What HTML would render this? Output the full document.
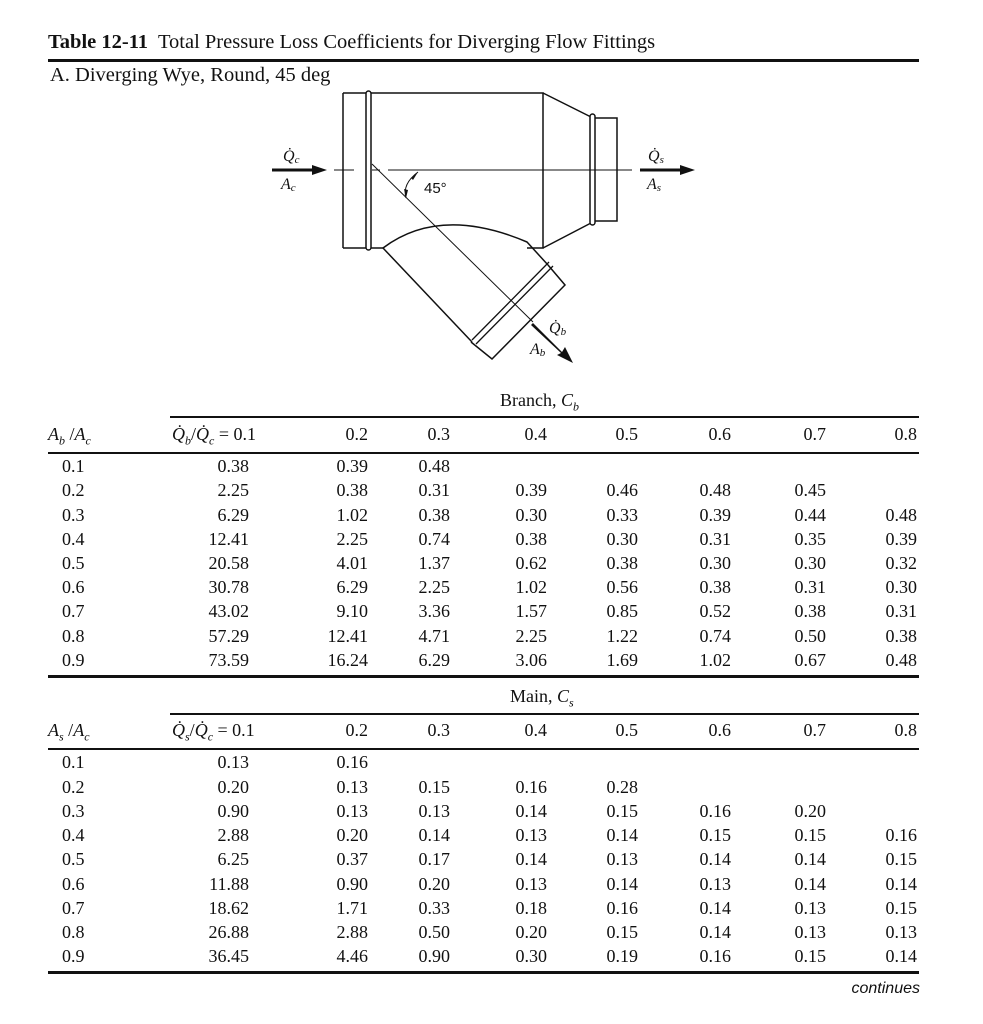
<!DOCTYPE html>
<html><head><meta charset="utf-8"><style>
body{margin:0;background:#fff;}
#p{position:relative;width:983px;height:1024px;overflow:hidden;font-family:"Liberation Serif",serif;color:#111;}
.a{position:absolute;white-space:nowrap;}
.r{position:absolute;left:0;width:983px;height:20px;line-height:20px;font-size:18px;}
.r span{position:absolute;}
.c0{left:62px}
.c1{right:734px}.c2{right:615px}.c3{right:533px}.c4{right:436px}.c5{right:345px}.c6{right:252px}.c7{right:157px}.c8{right:66px}
.ln{position:absolute;background:#111;}
i{font-style:italic}
</style></head><body><div id="p">
<div class="a" style="left:48px;top:31px;font-size:20.5px;"><b>Table 12-11</b>&nbsp; Total Pressure Loss Coefficients for Diverging Flow Fittings</div>
<div class="ln" style="left:48px;top:59px;width:871px;height:3px"></div>
<div class="a" style="left:50px;top:64px;font-size:20.5px;">A. Diverging Wye, Round, 45 deg</div>

<svg class="a" style="left:0;top:0" width="983" height="400" viewBox="0 0 983 400">
<g fill="none" stroke="#111" stroke-width="1.5">
<path d="M343,93 H543 V248 H527 M383,248 H343 Z"/>
<path d="M343,93 V248"/>
<rect x="366" y="91" width="5" height="159" rx="2.5" fill="#fff"/>
<path d="M543,93 L591,117 M543,248 L591,223"/>
<rect x="594" y="118" width="23" height="103"/>
<rect x="590" y="114" width="5" height="111" rx="2.5" fill="#fff"/>
<path d="M383,248 Q440,205 527,242 L548,265"/>
<path d="M383,248 L472,342"/>
<path d="M548,265 L565,285 L492,359 L471,342"/>
<path d="M549,262 L472,340 M553,266 L476,344" stroke-width="1.3"/>
<path d="M334,170 H354 M372,170 H380 M388,170 H632" stroke-width="1"/>
<path d="M372,164 L533,322" stroke-width="1"/>
<path d="M418,172 Q402,184 406,198" stroke-width="1"/>
</g>
<g fill="#111">
<path d="M272,168.5 H312 V165 L327,170 L312,175 V171.5 H272 Z"/>
<path d="M640,168.5 H680 V165 L695,170 L680,175 V171.5 H640 Z"/>
<path d="M533,323 L562,352 L565,347 L573,363 L557,355 L561,353 L531,325 Z"/>
<path d="M418,172 L413,180 L411,178 Z M406,198 L404,189 L408,190 Z"/>
</g>
<g font-family="Liberation Serif,serif" font-style="italic" font-size="16" fill="#111">
<text x="283" y="161">Q̇<tspan font-size="11" dy="2">c</tspan></text>
<text x="281" y="189">A<tspan font-size="11" dy="2">c</tspan></text>
<text x="648" y="161">Q̇<tspan font-size="11" dy="2">s</tspan></text>
<text x="647" y="189">A<tspan font-size="11" dy="2">s</tspan></text>
<text x="549" y="333">Q̇<tspan font-size="11" dy="2">b</tspan></text>
<text x="530" y="354">A<tspan font-size="11" dy="2">b</tspan></text>
</g>
<text x="424" y="193" font-family="Liberation Sans,sans-serif" font-size="15" fill="#111">45°</text>
</svg>

<div class="a" style="left:500px;top:390px;font-size:18px;">Branch, <i>C</i><sub style="font-size:12px"><i>b</i></sub></div>
<div class="ln" style="left:170px;top:416px;width:749px;height:2px"></div>
<div class="r" style="top:424px"><span class="c0" style="left:48px"><i>A<sub style="font-size:12px">b</sub></i> /<i>A<sub style="font-size:12px">c</sub></i></span><span style="left:172px"><i>Q̇<sub style="font-size:12px">b</sub></i>/<i>Q̇<sub style="font-size:12px">c</sub></i> = 0.1</span><span class="c2">0.2</span><span class="c3">0.3</span><span class="c4">0.4</span><span class="c5">0.5</span><span class="c6">0.6</span><span class="c7">0.7</span><span class="c8">0.8</span></div>
<div class="ln" style="left:48px;top:452px;width:871px;height:2px"></div>
<div class="r" style="top:456px"><span class="c0">0.1</span><span class="c1">0.38</span><span class="c2">0.39</span><span class="c3">0.48</span></div>
<div class="r" style="top:480px"><span class="c0">0.2</span><span class="c1">2.25</span><span class="c2">0.38</span><span class="c3">0.31</span><span class="c4">0.39</span><span class="c5">0.46</span><span class="c6">0.48</span><span class="c7">0.45</span></div>
<div class="r" style="top:505px"><span class="c0">0.3</span><span class="c1">6.29</span><span class="c2">1.02</span><span class="c3">0.38</span><span class="c4">0.30</span><span class="c5">0.33</span><span class="c6">0.39</span><span class="c7">0.44</span><span class="c8">0.48</span></div>
<div class="r" style="top:529px"><span class="c0">0.4</span><span class="c1">12.41</span><span class="c2">2.25</span><span class="c3">0.74</span><span class="c4">0.38</span><span class="c5">0.30</span><span class="c6">0.31</span><span class="c7">0.35</span><span class="c8">0.39</span></div>
<div class="r" style="top:553px"><span class="c0">0.5</span><span class="c1">20.58</span><span class="c2">4.01</span><span class="c3">1.37</span><span class="c4">0.62</span><span class="c5">0.38</span><span class="c6">0.30</span><span class="c7">0.30</span><span class="c8">0.32</span></div>
<div class="r" style="top:577px"><span class="c0">0.6</span><span class="c1">30.78</span><span class="c2">6.29</span><span class="c3">2.25</span><span class="c4">1.02</span><span class="c5">0.56</span><span class="c6">0.38</span><span class="c7">0.31</span><span class="c8">0.30</span></div>
<div class="r" style="top:601px"><span class="c0">0.7</span><span class="c1">43.02</span><span class="c2">9.10</span><span class="c3">3.36</span><span class="c4">1.57</span><span class="c5">0.85</span><span class="c6">0.52</span><span class="c7">0.38</span><span class="c8">0.31</span></div>
<div class="r" style="top:626px"><span class="c0">0.8</span><span class="c1">57.29</span><span class="c2">12.41</span><span class="c3">4.71</span><span class="c4">2.25</span><span class="c5">1.22</span><span class="c6">0.74</span><span class="c7">0.50</span><span class="c8">0.38</span></div>
<div class="r" style="top:650px"><span class="c0">0.9</span><span class="c1">73.59</span><span class="c2">16.24</span><span class="c3">6.29</span><span class="c4">3.06</span><span class="c5">1.69</span><span class="c6">1.02</span><span class="c7">0.67</span><span class="c8">0.48</span></div>
<div class="ln" style="left:48px;top:675px;width:871px;height:3px"></div>

<div class="a" style="left:510px;top:686px;font-size:18px;">Main, <i>C</i><sub style="font-size:12px"><i>s</i></sub></div>
<div class="ln" style="left:170px;top:713px;width:749px;height:2px"></div>
<div class="r" style="top:720px"><span class="c0" style="left:48px"><i>A<sub style="font-size:12px">s</sub></i> /<i>A<sub style="font-size:12px">c</sub></i></span><span style="left:172px"><i>Q̇<sub style="font-size:12px">s</sub></i>/<i>Q̇<sub style="font-size:12px">c</sub></i> = 0.1</span><span class="c2">0.2</span><span class="c3">0.3</span><span class="c4">0.4</span><span class="c5">0.5</span><span class="c6">0.6</span><span class="c7">0.7</span><span class="c8">0.8</span></div>
<div class="ln" style="left:48px;top:748px;width:871px;height:2px"></div>
<div class="r" style="top:752px"><span class="c0">0.1</span><span class="c1">0.13</span><span class="c2">0.16</span></div>
<div class="r" style="top:777px"><span class="c0">0.2</span><span class="c1">0.20</span><span class="c2">0.13</span><span class="c3">0.15</span><span class="c4">0.16</span><span class="c5">0.28</span></div>
<div class="r" style="top:801px"><span class="c0">0.3</span><span class="c1">0.90</span><span class="c2">0.13</span><span class="c3">0.13</span><span class="c4">0.14</span><span class="c5">0.15</span><span class="c6">0.16</span><span class="c7">0.20</span></div>
<div class="r" style="top:825px"><span class="c0">0.4</span><span class="c1">2.88</span><span class="c2">0.20</span><span class="c3">0.14</span><span class="c4">0.13</span><span class="c5">0.14</span><span class="c6">0.15</span><span class="c7">0.15</span><span class="c8">0.16</span></div>
<div class="r" style="top:849px"><span class="c0">0.5</span><span class="c1">6.25</span><span class="c2">0.37</span><span class="c3">0.17</span><span class="c4">0.14</span><span class="c5">0.13</span><span class="c6">0.14</span><span class="c7">0.14</span><span class="c8">0.15</span></div>
<div class="r" style="top:874px"><span class="c0">0.6</span><span class="c1">11.88</span><span class="c2">0.90</span><span class="c3">0.20</span><span class="c4">0.13</span><span class="c5">0.14</span><span class="c6">0.13</span><span class="c7">0.14</span><span class="c8">0.14</span></div>
<div class="r" style="top:898px"><span class="c0">0.7</span><span class="c1">18.62</span><span class="c2">1.71</span><span class="c3">0.33</span><span class="c4">0.18</span><span class="c5">0.16</span><span class="c6">0.14</span><span class="c7">0.13</span><span class="c8">0.15</span></div>
<div class="r" style="top:922px"><span class="c0">0.8</span><span class="c1">26.88</span><span class="c2">2.88</span><span class="c3">0.50</span><span class="c4">0.20</span><span class="c5">0.15</span><span class="c6">0.14</span><span class="c7">0.13</span><span class="c8">0.13</span></div>
<div class="r" style="top:946px"><span class="c0">0.9</span><span class="c1">36.45</span><span class="c2">4.46</span><span class="c3">0.90</span><span class="c4">0.30</span><span class="c5">0.19</span><span class="c6">0.16</span><span class="c7">0.15</span><span class="c8">0.14</span></div>
<div class="ln" style="left:48px;top:971px;width:871px;height:3px"></div>
<div class="a" style="right:63px;top:980px;font-size:16px;font-family:'Liberation Sans',sans-serif;font-style:italic;">continues</div>
</div></body></html>
